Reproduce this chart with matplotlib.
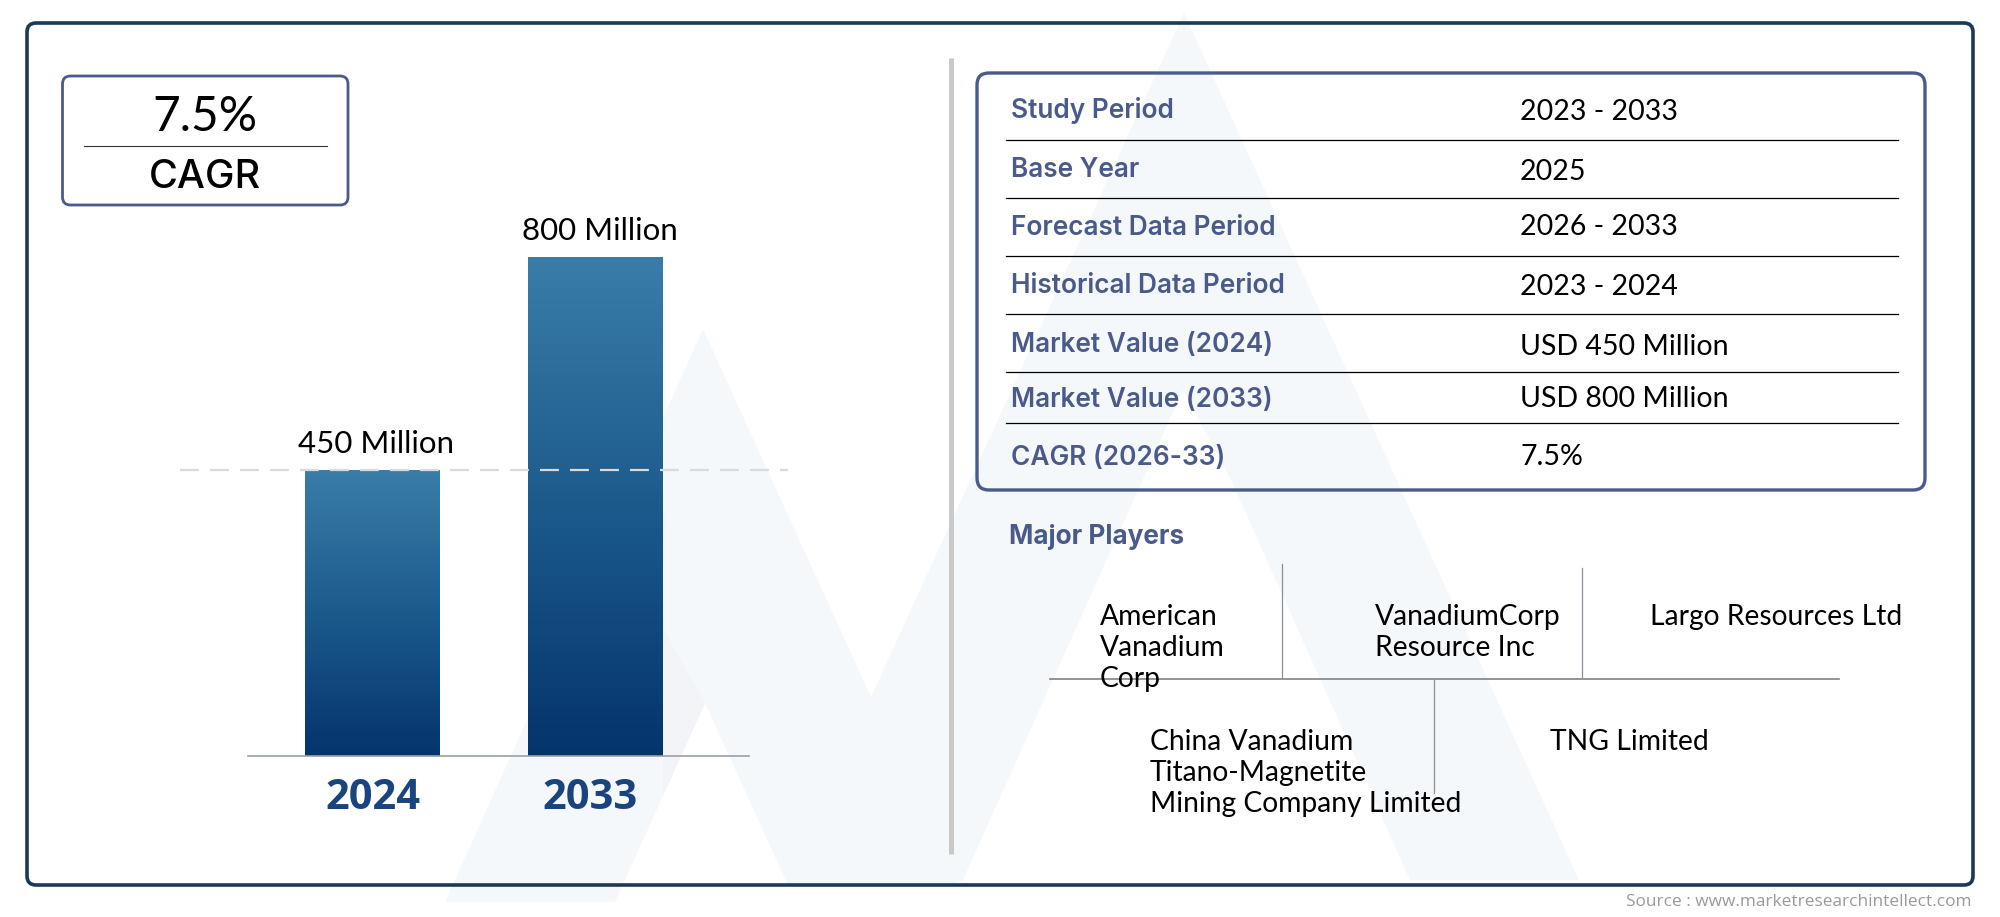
import matplotlib
matplotlib.use("Agg")
import matplotlib.pyplot as plt
import numpy as np
from matplotlib.colors import LinearSegmentedColormap
from matplotlib.patches import FancyBboxPatch, Polygon

# values
years = ["2024", "2033"]
market_value = [450, 800]
value_labels = ["450 Million", "800 Million"]

cagr_value = "7.5%"
cagr_label = "CAGR"

table_labels = ["Study Period", "Base Year", "Forecast Data Period", "Historical Data Period",
                "Market Value (2024)", "Market Value (2033)", "CAGR (2026-33)"]
table_values = ["2023 - 2033", "2025", "2026 - 2033", "2023 - 2024",
                "USD 450 Million", "USD 800 Million", "7.5%"]

players_top = ["American\nVanadium\nCorp", "VanadiumCorp\nResource Inc", "Largo Resources Ltd"]
players_bottom = ["China Vanadium\nTitano-Magnetite\nMining Company Limited", "TNG Limited"]

source_text = "Source : www.marketresearchintellect.com"

NAVY = "#1b3a57"
SLATE = "#4a5a8a"
WM = "#f5f8fb"
BODY_FONT = "Lato"
HEAD_FONT = "Inter"

fig = plt.figure(figsize=(20, 9.17), dpi=100)

# overlay in pixel coordinates for the frame, table and watermark
bg = fig.add_axes([0, 0, 1, 1])
bg.set_xlim(0, 2000)
bg.set_ylim(917, 0)
bg.axis("off")

# watermark
bg.add_patch(Polygon([(445, 902), (703, 329), (956, 883), (787, 883), (705, 703), (615, 902)],
                     fc=WM, ec="none", zorder=1))
bg.add_patch(Polygon([(871, 697), (1184, 13), (1579, 880), (1410, 880), (1231, 480), (1183, 390),
                      (963, 880), (956, 883)], fc=WM, ec="none", zorder=1))
bg.add_patch(Polygon([(663, 629), (705, 703), (663, 796)], fc="#f2f4f8", ec="none", zorder=1))

# outer frame
bg.add_patch(FancyBboxPatch((27, 23), 1946, 862, boxstyle="round,pad=0,rounding_size=9",
                            fc="none", ec=NAVY, lw=2.6, zorder=3))

# CAGR box
bg.add_patch(FancyBboxPatch((62.5, 76), 285.5, 129, boxstyle="round,pad=0,rounding_size=8",
                            fc="none", ec=SLATE, lw=2, zorder=3))
bg.plot([84, 327], [146, 146], color="#333333", lw=0.8, zorder=3)
bg.text(205, 117, cagr_value, ha="center", va="center", fontsize=34.5, family=BODY_FONT, color="black", zorder=4)
bg.text(205, 178, cagr_label, ha="center", va="center", fontsize=28.5, family=HEAD_FONT, weight="medium",
        color="black", zorder=4)

# divider
bg.plot([950.5, 950.5], [58, 854], color="#c9c9c9", lw=3.6, solid_capstyle="butt", zorder=3)

# table
bg.add_patch(FancyBboxPatch((977, 73), 948, 417, boxstyle="round,pad=0,rounding_size=12",
                            fc="none", ec=SLATE, lw=2.4, zorder=3))
label_y = [110, 170, 228, 286, 345, 400, 458]
value_y = [112, 172, 227, 287, 347, 399, 457]
rule_y = [140, 198, 256, 314, 372, 423]
for y in rule_y:
    bg.plot([1006, 1898], [y, y], color="black", lw=0.9, zorder=3)
for lab, val, ly, vy in zip(table_labels, table_values, label_y, value_y):
    bg.text(1011, ly, lab, ha="left", va="center", fontsize=18.9, family=HEAD_FONT, weight="semibold",
            color=SLATE, zorder=4)
    bg.text(1520, vy, val, ha="left", va="center", fontsize=20.5, family=BODY_FONT, color="black", zorder=4)

# major players
bg.text(1009, 537, "Major Players", ha="left", va="center", fontsize=18.8, family=HEAD_FONT, weight="bold",
        color=SLATE, zorder=4)
bg.plot([1050, 1839], [679, 679], color="#7b828c", lw=1.2, zorder=3)
bg.plot([1282, 1282], [564, 677], color="#8a9098", lw=0.9, zorder=3)
bg.plot([1582, 1582], [568, 677], color="#8a9098", lw=0.9, zorder=3)
bg.plot([1434, 1434], [680, 793], color="#8a9098", lw=0.9, zorder=3)
for name, x in zip(players_top, [1100, 1375, 1650]):
    bg.text(x, 604, name, ha="left", va="top", fontsize=20.3, family=BODY_FONT, linespacing=1.23, zorder=4)
for name, x in zip(players_bottom, [1150, 1550]):
    bg.text(x, 729, name, ha="left", va="top", fontsize=20.3, family=BODY_FONT, linespacing=1.23, zorder=4)

bg.text(1971, 902, source_text, ha="right", va="center", fontsize=12.4, family="Open Sans", color="#9a9a9a", zorder=4)

# bar chart, baseline sits slightly under zero like the original graphic
ax = fig.add_axes([248 / 2000, 1 - 755.5 / 917, 501 / 2000, 498.5 / 917])
ax.patch.set_alpha(0)
base = -19
x = np.arange(len(years))
width = 0.605
bars = ax.bar(x, np.array(market_value) - base, width, bottom=base, color="none")
cmap = LinearSegmentedColormap.from_list("bar", ["#3a7da9", "#1c5a8c", "#04346c"])
grad = np.linspace(0, 1, 256).reshape(-1, 1)
for bar, v, xi in zip(bars, market_value, x):
    im = ax.imshow(grad, cmap=cmap, aspect="auto", extent=[xi - width / 2, xi + width / 2, base, v], zorder=2)
    im.set_clip_path(bar)
ax.set_xlim(-0.558, 1.688)
ax.set_ylim(base, 800)
for s in ["top", "left", "right"]:
    ax.spines[s].set_visible(False)
ax.spines["bottom"].set_color("#9aa0a8")
ax.spines["bottom"].set_linewidth(1.2)
ax.set_yticks([])
# the 2033 label sits a little left of its bar in the original
ax.set_xticks([0, 0.975], years)
ax.tick_params(axis="x", length=0, pad=16)
for t in ax.get_xticklabels():
    t.set_fontsize(30)
    t.set_family("Open Sans")
    t.set_weight("bold")
    t.set_color("#1a4480")
for xi, v, lab in zip(x, market_value, value_labels):
    ax.annotate(lab, (xi, v), xytext=(4, 12), textcoords="offset pixels", ha="center", va="bottom",
                fontsize=22.5, family=BODY_FONT, color="black")
ax.plot([-0.862, 1.865], [450, 450], color="#d8dadc", lw=1.6, dashes=(8.5, 5), clip_on=False, zorder=3)

fig.savefig("out.png", dpi=100)
